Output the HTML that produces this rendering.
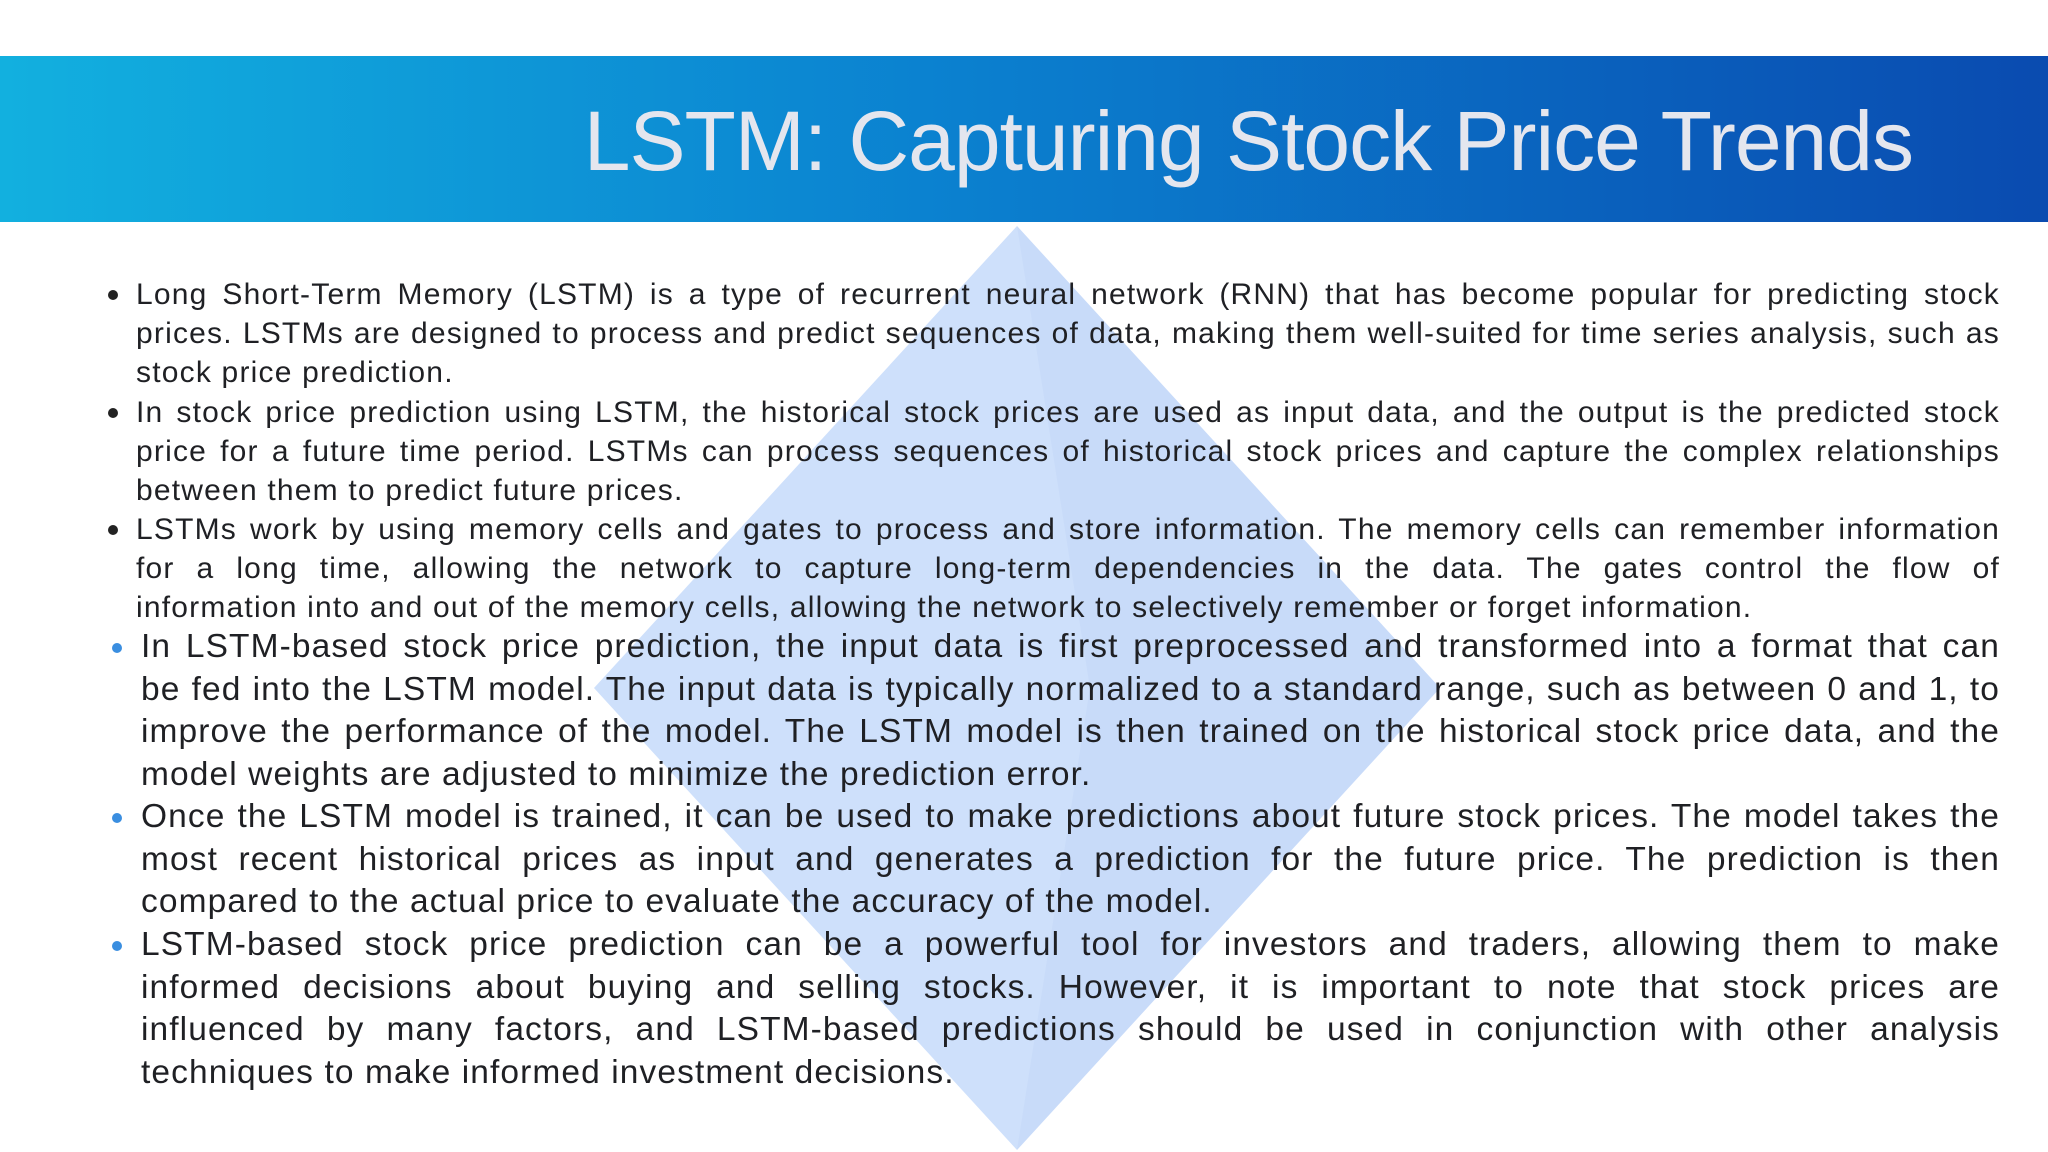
<!DOCTYPE html>
<html><head><meta charset="utf-8"><style>
html,body{margin:0;padding:0}
body{width:2048px;height:1152px;position:relative;overflow:hidden;background:#fff;font-family:"Liberation Sans",sans-serif;color:#1f2024}
#banner{position:absolute;left:0;top:56px;width:2048px;height:166px;background:linear-gradient(90deg,#12b0df 0%,#0b82d0 45%,#0a4bb0 100%)}
#title{position:absolute;right:135px;top:93px;font-size:84px;color:#e4e6ee;white-space:nowrap;letter-spacing:-1px}
.p{position:absolute;left:136px;width:1864px}
.p div{white-space:nowrap;text-align:justify;text-align-last:justify}
.p div.last{text-align-last:left}
.s{font-size:30px;line-height:39.2px;letter-spacing:1.2px}
.b{font-size:33.5px;line-height:42.7px;left:141px;width:1859px;letter-spacing:1.1px}
.dot{position:absolute;border-radius:50%}
</style></head><body>
<svg width="2048" height="1152" style="position:absolute;left:0;top:0">
<polygon points="1017,226 1440,688 1017,1150 594,688" fill="#c9ddfb" opacity="0.9"/>
<polygon points="1017,226 1440,688 1017,1150 1090,688" fill="#bcd2f5" opacity="0.35"/>
</svg>
<div id="banner"></div>
<div id="title">LSTM: Capturing Stock Price Trends</div>

<div class="dot" style="left:108px;top:290px;width:10px;height:10px;background:#222"></div>
<div class="p s" style="top:275px">
<div>Long Short-Term Memory (LSTM) is a type of recurrent neural network (RNN) that has become popular for predicting stock</div>
<div>prices. LSTMs are designed to process and predict sequences of data, making them well-suited for time series analysis, such as</div>
<div class="last">stock price prediction.</div></div>

<div class="dot" style="left:108px;top:408px;width:10px;height:10px;background:#222"></div>
<div class="p s" style="top:393px">
<div>In stock price prediction using LSTM, the historical stock prices are used as input data, and the output is the predicted stock</div>
<div>price for a future time period. LSTMs can process sequences of historical stock prices and capture the complex relationships</div>
<div class="last">between them to predict future prices.</div></div>

<div class="dot" style="left:108px;top:525px;width:10px;height:10px;background:#222"></div>
<div class="p s" style="top:510px">
<div>LSTMs work by using memory cells and gates to process and store information. The memory cells can remember information</div>
<div>for a long time, allowing the network to capture long-term dependencies in the data. The gates control the flow of</div>
<div class="last">information into and out of the memory cells, allowing the network to selectively remember or forget information.</div></div>

<div class="dot" style="left:112px;top:643px;width:10px;height:10px;background:#3a8ee0"></div>
<div class="p b" style="top:626px">
<div>In LSTM-based stock price prediction, the input data is first preprocessed and transformed into a format that can</div>
<div>be fed into the LSTM model. The input data is typically normalized to a standard range, such as between 0 and 1, to</div>
<div>improve the performance of the model. The LSTM model is then trained on the historical stock price data, and the</div>
<div class="last">model weights are adjusted to minimize the prediction error.</div></div>

<div class="dot" style="left:112px;top:813px;width:10px;height:10px;background:#3a8ee0"></div>
<div class="p b" style="top:796px">
<div>Once the LSTM model is trained, it can be used to make predictions about future stock prices. The model takes the</div>
<div>most recent historical prices as input and generates a prediction for the future price. The prediction is then</div>
<div class="last">compared to the actual price to evaluate the accuracy of the model.</div></div>

<div class="dot" style="left:112px;top:941px;width:10px;height:10px;background:#3a8ee0"></div>
<div class="p b" style="top:924px">
<div>LSTM-based stock price prediction can be a powerful tool for investors and traders, allowing them to make</div>
<div>informed decisions about buying and selling stocks. However, it is important to note that stock prices are</div>
<div>influenced by many factors, and LSTM-based predictions should be used in conjunction with other analysis</div>
<div class="last">techniques to make informed investment decisions.</div></div>
</body></html>
